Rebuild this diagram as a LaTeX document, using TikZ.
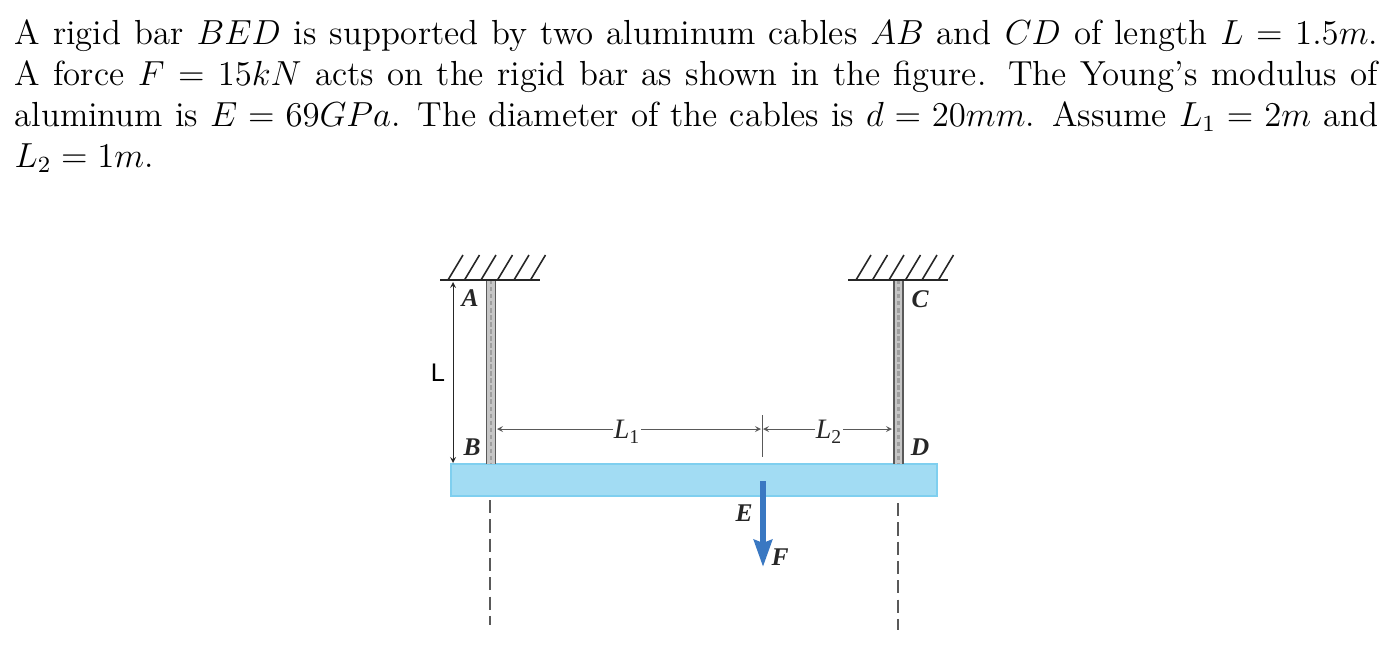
\documentclass[tikz,border=0pt]{standalone}
\usepackage{fontspec}
\usetikzlibrary{arrows.meta}
\newfontfamily\figfont{Liberation Serif}
\newfontfamily\figsans{Liberation Sans}
\definecolor{barfill}{HTML}{A2DCF3}
\definecolor{baredge}{HTML}{7FCFEF}
\definecolor{forceblue}{HTML}{3A78C2}
\tikzset{
  lbl/.style={font=\figfont\bfseries\itshape\fontsize{14.5}{14.5}\selectfont,inner sep=0pt,text=black!85},
  span/.style={font=\figfont\itshape\fontsize{16}{16}\selectfont,inner sep=0pt,text=black!85},
  wall/.style={line width=0.9pt,black!85},
  cable/.style={draw=gray!70!black,line width=0.8pt,double=gray!45,double distance=4.4pt},
  strand/.style={gray!75,line width=1.2pt,dash pattern=on 2.5pt off 1.5pt},
  dim/.style={black!65,line width=0.5pt},
  guide/.style={black!65,line width=0.9pt,dash pattern=on 7.5pt off 3.5pt}
}
\begin{document}
\begin{tikzpicture}[x=0.02cm,y=-0.02cm]
    \useasboundingbox (0,0) rectangle (1400,660);
    % statement
    \node[anchor=north west,inner sep=0pt,scale=1.65,transform shape,text width=16.53cm,align=justify,
          font=\fontsize{12}{14.14}\selectfont] (statement) at (14,19) {%
      A rigid bar $BED$ is supported by two aluminum cables $AB$ and $CD$ of length $L=1.5m$.\linebreak
      A force $F=15kN$ acts on the rigid bar as shown in the figure. The Young's modulus of\linebreak
      aluminum is $E=69GPa$. The diameter of the cables is $d=20mm$. Assume $L_1=2m$ and\linebreak
      $L_2=1m$.};
    % bar and points
    \node[draw=baredge,fill=barfill,line width=0.8pt,minimum width=9.72cm,minimum height=0.64cm,inner sep=0pt] (bar) at (694,480) {};
    \coordinate (A) at (491,280);
    \coordinate (B) at (491,464);
    \coordinate (C) at (898.5,280);
    \coordinate (D) at (898.5,464);
    % cables
    \draw[cable] (A) -- (B);
    \draw[cable] (C) -- (D);
    \draw[strand] (A) -- (B);
    \draw[strand] (C) -- (D);
    % supports
    \coordinate (wallAl) at (440,280);
    \coordinate (wallAr) at (540,280);
    \coordinate (wallCl) at (848,280);
    \coordinate (wallCr) at (948,280);
    \draw[wall] (wallAl) -- (wallAr);
    \draw[wall] (wallCl) -- (wallCr);
    \foreach \x in {448,464.5,481,497.5,514,530.5}{
        \draw[wall] (\x,280) -- ++(15,-25);
        \draw[wall] (\x+408,280) -- ++(15,-25);
    }
    % length L
    \coordinate (topL) at (453,282);
    \coordinate (botL) at (453,463);
    \draw[<->,>=stealth,black!85,line width=0.5pt] (topL) -- (botL);
    \node[font=\figsans\fontsize{14.5}{14.5}\selectfont,inner sep=0pt] (labL) at (438,373) {L};
    % spans
    \coordinate (leftS) at (497,429);
    \coordinate (rightS) at (892,429);
    \coordinate (tickT) at (762,415);
    \coordinate (tickB) at (762,457);
    \coordinate (midL) at (761,429);
    \coordinate (midR) at (763,429);
    \node[span] (labA) at (627,432) {L\textsubscript{\figfont\upshape 1}};
    \node[span] (labB) at (829,432) {L\textsubscript{\figfont\upshape 2}};
    \draw[dim] (tickT) -- (tickB);
    \draw[dim,->,>=stealth] (labA) ++(-14,-3) -- (leftS);
    \draw[dim,->,>=stealth] (labA) ++(14,-3) -- (midL);
    \draw[dim,->,>=stealth] (labB) ++(-14,-3) -- (midR);
    \draw[dim,->,>=stealth] (labB) ++(14,-3) -- (rightS);
    % guides
    \draw[guide] (490,500) -- (490,625);
    \draw[guide] (898,503) -- (898,630);
    % force
    \coordinate (forceS) at (763,481);
    \coordinate (forceE) at (763,567);
    \draw[forceblue,line width=3.8pt,-{Stealth[length=0.54cm,width=0.36cm,inset=0.06cm]}] (forceS) -- (forceE);
    % labels
    \node[lbl] (labelA) at (470,298) {A};
    \node[lbl] (labelB) at (472,447) {B};
    \node[lbl] (labelC) at (920,299) {C};
    \node[lbl] (labelD) at (920,447) {D};
    \node[lbl] (labelE) at (744,513) {E};
    \node[lbl] (labelF) at (780,557) {F};
\end{tikzpicture}
\end{document}
